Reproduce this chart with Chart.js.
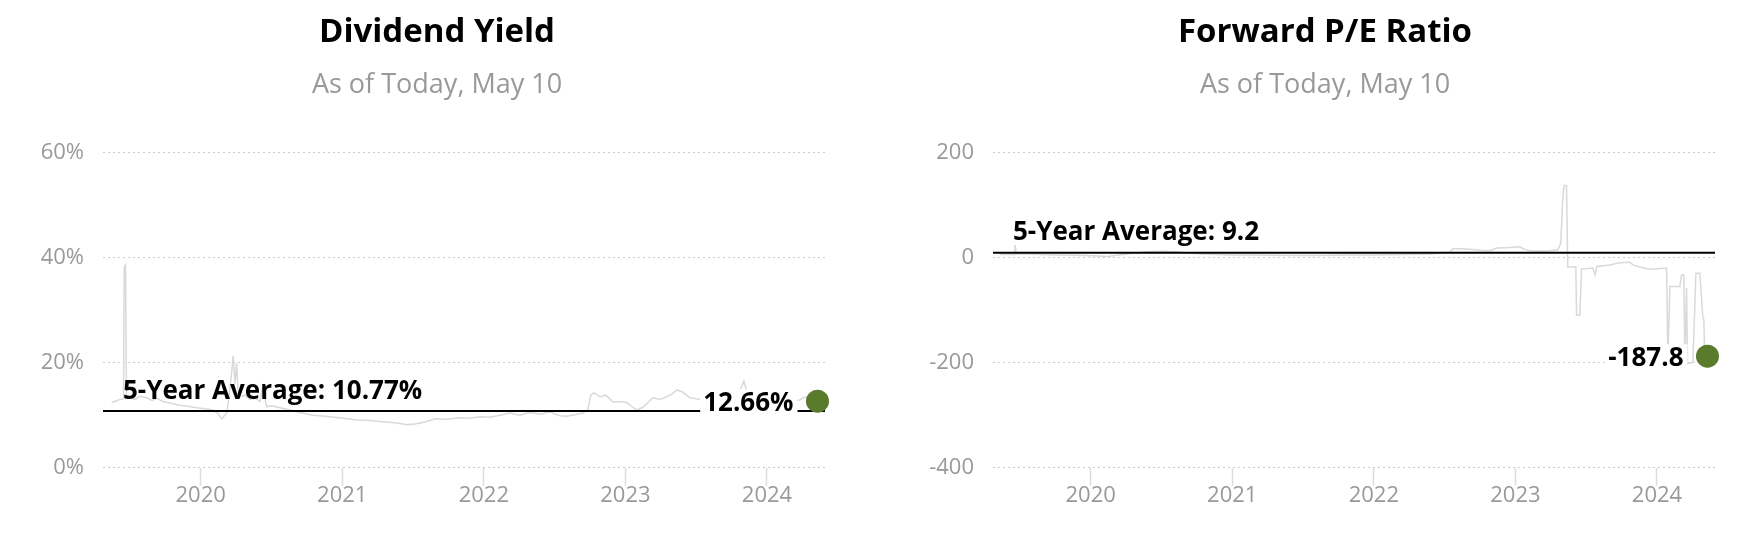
<!DOCTYPE html>
<html>
<head>
<meta charset="utf-8">
<script src="https://cdn.jsdelivr.net/npm/chart.js@4.4.1/dist/chart.umd.min.js"></script>
<style>
  html, body { margin: 0; padding: 0; background: #fff; overflow: hidden; }
  #wrap { position: relative; width: 1748px; height: 542px; overflow: hidden; }
  canvas { position: absolute; top: 0; }
</style>
</head>
<body>
<div id="wrap">
  <canvas id="c1" width="874" height="542" style="left:0px"></canvas>
  <canvas id="c2" width="874" height="542" style="left:888px"></canvas>
</div>
<script>
// ---------- DATA ----------
const yearTicks = [2020, 2021, 2022, 2023, 2024];
const xMin = 2019.31;
const xMax = 2024.41;

// Dividend Yield (%)
const dyTitle = "Dividend Yield";
const dySubtitle = "As of Today, May 10";
const dyTicks = [0, 20, 40, 60];
const dyAvg = 10.77;
const dyAvgText = "5-Year Average: 10.77%";
const dyLastText = "12.66%";
const dyX = [2019.371, 2019.402, 2019.43, 2019.455, 2019.46, 2019.469, 2019.476, 2019.50, 2019.536, 2019.571,
  2019.619, 2019.656, 2019.691, 2019.734, 2019.783, 2019.854, 2019.91, 2019.972, 2020.03, 2020.087,
  2020.122, 2020.148, 2020.164, 2020.184, 2020.20, 2020.214, 2020.23, 2020.242, 2020.254, 2020.263,
  2020.277, 2020.313, 2020.348, 2020.39, 2020.419, 2020.438, 2020.447, 2020.466, 2020.503, 2020.56,
  2020.631, 2020.701, 2020.793, 2020.878, 2020.948, 2021.033, 2021.11, 2021.196, 2021.266, 2021.351,
  2021.407, 2021.457, 2021.513, 2021.584, 2021.655, 2021.739, 2021.831, 2021.902, 2021.972, 2022.043,
  2022.114, 2022.184, 2022.255, 2022.325, 2022.396, 2022.467, 2022.537, 2022.587, 2022.643, 2022.70,
  2022.735, 2022.756, 2022.777, 2022.82, 2022.862, 2022.912, 2022.961, 2023.01, 2023.046, 2023.081,
  2023.124, 2023.159, 2023.194, 2023.243, 2023.293, 2023.328, 2023.364, 2023.406, 2023.456, 2023.505,
  2023.547, 2023.597, 2023.667, 2023.738, 2023.794, 2023.823, 2023.837, 2023.858, 2023.914, 2023.985,
  2024.055, 2024.126, 2024.197, 2024.232, 2024.268, 2024.303, 2024.357];
const dyY = [12.4, 12.7, 13.0, 13.1, 38.2, 38.6, 13.2, 13.5, 13.0, 13.6,
  13.3, 12.8, 13.2, 12.6, 12.3, 11.9, 11.7, 11.4, 11.2, 11.0,
  10.3, 9.3, 9.8, 10.4, 13.5, 17.0, 21.3, 16.0, 19.9, 15.0,
  13.5, 13.8, 13.0, 13.2, 12.6, 15.4, 14.0, 11.6, 11.8, 11.4,
  11.0, 10.5, 10.0, 9.8, 9.6, 9.3, 9.1, 9.0, 8.8, 8.6,
  8.4, 8.2, 8.3, 8.7, 9.3, 9.2, 9.5, 9.4, 9.7, 9.6,
  10.0, 10.4, 10.0, 10.5, 10.2, 10.6, 9.9, 9.8, 10.1, 10.4,
  11.0, 13.8, 14.3, 13.5, 13.8, 12.5, 12.6, 12.4, 11.6, 11.0,
  11.5, 12.4, 13.3, 13.0, 13.5, 14.0, 14.8, 14.4, 13.3, 13.1,
  12.9, 12.7, 13.0, 13.5, 14.0, 15.5, 16.5, 14.5, 13.5, 13.2,
  12.8, 12.5, 12.8, 12.9, 13.5, 13.0, 12.66];

// Forward P/E Ratio
const peTitle = "Forward P/E Ratio";
const peSubtitle = "As of Today, May 10";
const peTicks = [-400, -200, 0, 200];
const peAvg = 9.2;
const peAvgText = "5-Year Average: 9.2";
const peLastText = "-187.8";
const peX = [2019.36, 2019.40, 2019.46, 2019.465, 2019.475, 2019.55, 2019.65, 2019.75, 2019.85, 2019.95,
  2020.05, 2020.12, 2020.20, 2020.30, 2020.40, 2020.50, 2020.60, 2020.70, 2020.80, 2020.90,
  2021.00, 2021.20, 2021.40, 2021.60, 2021.80, 2022.00, 2022.20, 2022.40, 2022.537, 2022.559,
  2022.608, 2022.679, 2022.749, 2022.82, 2022.869, 2022.961, 2023.032, 2023.06, 2023.102, 2023.208,
  2023.30, 2023.321, 2023.334, 2023.344, 2023.361, 2023.37, 2023.427, 2023.432, 2023.455, 2023.467,
  2023.547, 2023.562, 2023.576, 2023.668, 2023.738, 2023.809, 2023.83, 2023.879, 2023.95, 2024.068,
  2024.077, 2024.091, 2024.162, 2024.174, 2024.19, 2024.197, 2024.209, 2024.216, 2024.254, 2024.275,
  2024.303, 2024.324, 2024.331, 2024.338, 2024.357];
const peY = [6, 6, 6, 24, 7, 7, 6, 5, 5, 4,
  3, 2, 5, 8, 11, 12, 11, 8, 7, 6,
  5, 5, 4, 4, 5, 5, 6, 7, 10, 16.7,
  17, 16, 14, 13, 18, 19, 20.5, 16, 13, 12,
  14.8, 28, 110, 137, 137, -18, -18, -110, -110, -22,
  -20, -33, -17, -14, -10, -9, -14, -18, -22, -20,
  -196, -55, -55, -33, -33, -202, -58, -202, -199, -30,
  -30, -113, -118, -196, -187.8];

// ---------- STYLE ----------
Chart.defaults.font.family = "'Open Sans', 'DejaVu Sans', sans-serif";

const labelPlugin = {
  id: 'valueLabels',
  afterDatasetsDraw(chart, args, opts) {
    const { ctx, chartArea, scales } = chart;
    const x = scales.x, y = scales.y;
    ctx.save();
    ctx.font = 'bold 26px "Open Sans"';
    ctx.fillStyle = '#000';
    ctx.textAlign = 'left';
    ctx.textBaseline = 'alphabetic';
    const ya = y.getPixelForValue(opts.avg);
    ctx.fillText(opts.avgText, chartArea.left + 20, ya - 12.5);
    const px = x.getPixelForValue(opts.lastX);
    const py = y.getPixelForValue(opts.lastY);
    const tx = px - 24;
    const w = ctx.measureText(opts.lastText).width;
    ctx.fillStyle = '#fff';
    ctx.fillRect(tx - w - 3, py - 12, w + 7, 25);
    ctx.fillStyle = '#000';
    ctx.textAlign = 'right';
    ctx.textBaseline = 'middle';
    ctx.fillText(opts.lastText, tx, py + 2);
    ctx.restore();
  }
};

function makeChart(id, p) {
  const pts = p.xs.map((v, i) => ({ x: v, y: p.ys[i] }));
  const last = pts[pts.length - 1];
  return new Chart(document.getElementById(id), {
    type: 'line',
    data: {
      datasets: [
        { data: [last], showLine: false, pointRadius: 11.5, pointBackgroundColor: '#5b7b2c',
          pointBorderWidth: 0, pointBorderColor: '#5b7b2c', order: 1, clip: false },
        { data: [{ x: xMin, y: p.avg }, { x: xMax, y: p.avg }], borderColor: '#000', borderWidth: 2,
          pointRadius: 0, order: 2 },
        { data: pts, borderColor: '#d9d9d9', borderWidth: 1.5, pointRadius: 0, tension: 0, order: 3 }
      ]
    },
    options: {
      responsive: false,
      animation: false,
      layout: { padding: 0 },
      plugins: {
        legend: { display: false },
        tooltip: { enabled: false },
        title: { display: true, text: p.title, color: '#000',
          font: { size: 33, weight: 'bold' }, padding: { top: 12.7, bottom: 0 } },
        subtitle: { display: true, text: p.subtitle, color: '#999',
          font: { size: 27, weight: 'normal' }, padding: { top: 16.7, bottom: 51.1 } },
        valueLabels: { avg: p.avg, avgText: p.avgText, lastX: last.x, lastY: last.y, lastText: p.lastText }
      },
      scales: {
        x: {
          type: 'linear', min: xMin, max: xMax,
          afterBuildTicks: (s) => { s.ticks = yearTicks.map(v => ({ value: v })); },
          afterFit: (s) => { s.height = 542 - 467.7; },
          ticks: { color: '#999', font: { size: 22 }, padding: -3, maxRotation: 0,
            callback: (v) => String(v) },
          grid: { drawOnChartArea: false, drawTicks: true, tickLength: 18, tickColor: '#dddddd', tickWidth: 1.5 },
          border: { display: false }
        },
        y: {
          min: p.yTicks[0], max: p.yTicks[p.yTicks.length - 1],
          afterBuildTicks: (s) => { s.ticks = p.yTicks.map(v => ({ value: v })); },
          afterFit: (s) => { s.width = p.yWidth; },
          ticks: { color: '#999', font: { size: 22 }, padding: 19, callback: p.fmt },
          grid: { color: '#cccccc', lineWidth: 1, drawTicks: false },
          border: { display: false, dash: [2, 3] }
        },
        yPad: {
          position: 'right', display: true,
          afterFit: (s) => { s.width = p.padRight; },
          ticks: { display: false },
          grid: { display: false },
          border: { display: false }
        }
      }
    },
    plugins: [labelPlugin]
  });
}

makeChart('c1', { xs: dyX, ys: dyY, title: dyTitle, subtitle: dySubtitle, yTicks: dyTicks, avg: dyAvg,
  avgText: dyAvgText, lastText: dyLastText, padRight: 49, yWidth: 103, fmt: (v) => v + '%' });
makeChart('c2', { xs: peX, ys: peY, title: peTitle, subtitle: peSubtitle, yTicks: peTicks, avg: peAvg,
  avgText: peAvgText, lastText: peLastText, padRight: 47, yWidth: 105, fmt: (v) => String(v) });
</script>
</body>
</html>
